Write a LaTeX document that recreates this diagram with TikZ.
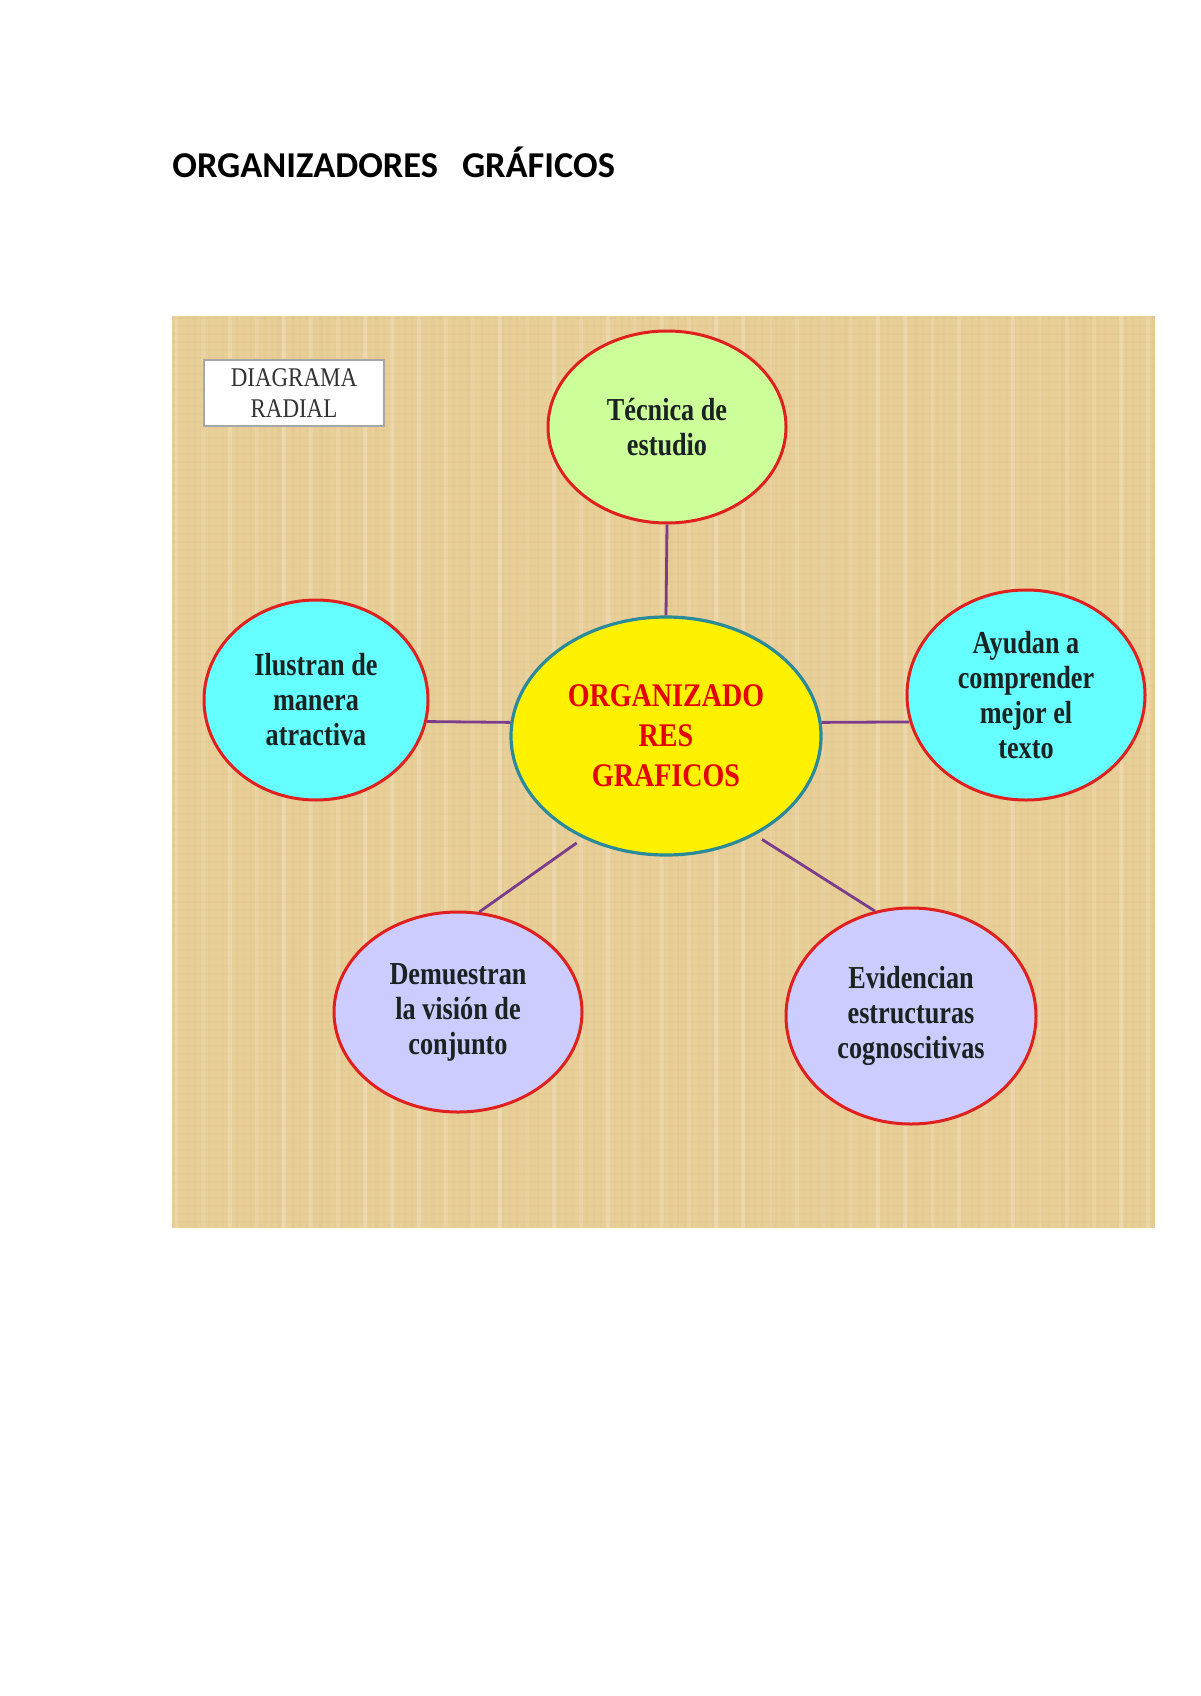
\documentclass[tikz,border=0pt]{standalone}
\usepackage{fontspec}
\setmainfont{Liberation Serif}
\newfontfamily\titlefont{Carlito}
\newfontfamily\nodefont[FakeStretch=0.82]{Liberation Serif}
\newfontfamily\centerfont[FakeStretch=0.85]{Liberation Serif}
\newfontfamily\boxfont[FakeStretch=0.85]{Liberation Serif}
\usetikzlibrary{shapes.geometric}
\definecolor{burlap}{HTML}{E8CF98}
\definecolor{burlapdark}{HTML}{C9A868}
\definecolor{ringred}{HTML}{E0201E}
\definecolor{ringteal}{HTML}{2A8A9A}
\definecolor{linkpurple}{HTML}{7A3D8C}
\definecolor{leafgreen}{HTML}{CCFF99}
\definecolor{leafcyan}{HTML}{66FFFF}
\definecolor{leaflav}{HTML}{CCCCFF}
\definecolor{inktext}{HTML}{1A2222}
\tikzset{
  leaf/.style={ellipse, draw=ringred, line width=1.5pt, inner sep=0pt, align=center,
    text=inktext, font=\nodefont\bfseries\fontsize{16}{17.5}\selectfont},
  hub/.style={ellipse, draw=ringteal, line width=1.6pt, fill=yellow, inner sep=0pt, align=center,
    text=red!90!black, font=\centerfont\bfseries\fontsize{16.5}{20}\selectfont},
  link/.style={draw=linkpurple, line width=1.4pt}
}
\begin{document}
\begin{tikzpicture}[x=0.5pt,y=-0.5pt]
\useasboundingbox (0,0) rectangle (1200,1696);
\fill[white] (0,0) rectangle (1200,1696);
% title
\node[anchor=base west, inner sep=0pt, font=\titlefont\bfseries\fontsize{18.2}{21}\selectfont] (title) at (172,178) {ORGANIZADORES\hspace{12pt}GRÁFICOS};
% panel with a faint woven texture
\fill[burlap] (172,316) rectangle (1155,1228);
\pgfmathsetseed{7}
\begin{scope}
\clip (172,316) rectangle (1155,1228);
\foreach \xx in {174,181,...,1154}{
  \pgfmathsetmacro{\op}{0.02+0.08*rnd}
  \pgfmathsetmacro{\wd}{1+3*rnd}
  \draw[burlapdark, opacity=\op, line width=\wd*0.5pt] (\xx,316) -- (\xx,1228);
}
\foreach \xx in {176,203,...,1154}{
  \pgfmathsetmacro{\op}{0.08+0.15*rnd}
  \draw[white, opacity=\op, line width=2pt] (\xx,316) -- (\xx,1228);
}
\foreach \yy in {318,326,...,1228}{
  \pgfmathsetmacro{\op}{0.02+0.07*rnd}
  \draw[burlapdark, opacity=\op, line width=0.8pt] (172,\yy) -- (1155,\yy);
}
\end{scope}
% label box
\node[draw=gray!70, line width=1pt, fill=white, minimum width=90pt, minimum height=33pt, inner sep=0pt, align=center,
  text=black!80, font=\boxfont\fontsize{13.5}{15.5}\selectfont] (tag) at (294,393) {DIAGRAMA\\RADIAL};
% nodes
\node[hub, minimum width=155pt, minimum height=119pt] (c) at (666,736) {ORGANIZADO\\RES\\GRAFICOS};
\node[leaf, fill=leafgreen, minimum width=119pt, minimum height=96pt] (t) at (667,427) {Técnica de\\estudio};
\node[leaf, fill=leafcyan, minimum width=112pt, minimum height=100pt] (l) at (316,700) {Ilustran de\\manera\\atractiva};
\node[leaf, fill=leafcyan, minimum width=119pt, minimum height=105pt] (r) at (1026,695) {Ayudan a\\comprender\\mejor el\\texto};
\node[leaf, fill=leaflav, minimum width=124pt, minimum height=100pt] (bl) at (458,1012) {Demuestran\\la visión de\\conjunto};
\node[leaf, fill=leaflav, minimum width=125pt, minimum height=108pt] (br) at (911,1016) {Evidencian\\estructuras\\cognoscitivas};
% connectors
\draw[link] (t.south) -- (c.north);
\draw[link] (l.-11) -- (c.175);
\draw[link] (c.5) -- (r.-167);
\draw[link, shorten <=4pt] (c.-129) -- (bl.78);
\draw[link, shorten <=4pt] (c.-48) -- (br.109);
\end{tikzpicture}
\end{document}
